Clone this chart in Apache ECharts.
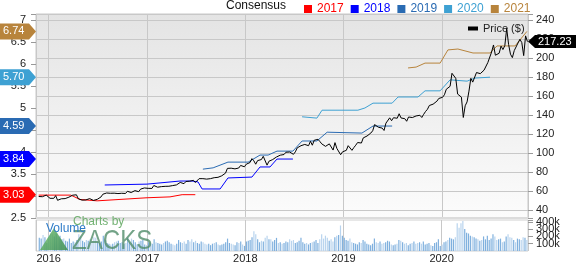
<!DOCTYPE html>
<html><head><meta charset="utf-8">
<script src="https://cdn.jsdelivr.net/npm/echarts@6/dist/echarts.min.js"></script>
<style>html,body{margin:0;padding:0;background:#fff}#c{width:576px;height:264px}</style>
</head><body><div id="c"></div>
<script>
// ---------- DATA ----------
const price2015 = [54.2, 55.9, 54.0, 54.1, 55.7];
const price2016 = [55.5, 52.3, 51.0, 52.3, 55.1, 50.2, 50.5, 51.8, 51.0, 52.0, 53.1, 53.5, 54.2, 55.6, 54.4, 56.0, 51.8, 49.9, 50.4, 51.1, 50.6, 52.3, 52.0, 51.5, 50.1, 49.8, 51.2, 52.3, 53.7, 56.6, 56.7, 57.9, 57.9, 57.6, 58.0, 57.7, 56.2, 57.3, 57.4, 57.6, 57.8, 57.4, 59.7, 59.9, 58.4, 58.8, 60.4, 60.5, 59.3, 62.0, 62.3, 63.2, 62.1];
const price2017 = [62.8, 62.7, 62.7, 65.8, 63.7, 64.0, 64.6, 64.6, 64.3, 64.9, 64.9, 65.0, 65.9, 65.7, 65.0, 66.4, 68.5, 69.0, 68.4, 67.7, 70.0, 71.8, 70.3, 70.0, 71.2, 68.9, 69.5, 73.0, 73.8, 73.0, 72.7, 72.5, 72.5, 73.0, 74.7, 74.0, 75.3, 74.4, 74.5, 76.0, 77.5, 78.8, 83.8, 84.1, 84.0, 82.4, 83.3, 84.3, 84.2, 86.9, 85.5, 85.5];
const price2018 = [88.2, 89.6, 90.0, 94.1, 91.8, 88.2, 92.0, 94.1, 93.1, 96.5, 94.6, 87.2, 91.3, 90.2, 93.1, 95.0, 95.8, 95.0, 97.7, 96.4, 98.4, 100.8, 101.6, 101.0, 100.4, 98.6, 101.2, 105.4, 106.3, 107.7, 108.0, 109.0, 107.6, 107.7, 112.3, 108.2, 113.4, 114.3, 114.4, 112.1, 109.6, 108.7, 107.0, 106.2, 109.6, 108.3, 103.1, 110.9, 104.8, 106.0, 98.2, 101.2];
const price2019 = [101.9, 102.8, 107.7, 106.2, 102.8, 105.7, 108.2, 111.0, 112.5, 110.5, 115.9, 117.1, 117.9, 119.4, 121.0, 123.4, 129.9, 128.9, 127.1, 128.1, 126.2, 123.7, 131.4, 132.5, 137.0, 134.0, 137.1, 138.9, 136.6, 141.3, 136.9, 137.7, 136.1, 133.4, 137.9, 139.1, 137.3, 139.4, 139.0, 138.1, 139.7, 137.4, 140.7, 143.7, 146.0, 150.0, 149.6, 151.4, 151.8, 154.5, 157.4, 159.0];
const price2020 = [158.6, 161.3, 167.1, 165.0, 170.2, 183.9, 185.4, 178.6, 162.0, 161.6, 158.8, 137.4, 149.7, 153.8, 165.1, 178.6, 174.6, 174.6, 184.7, 183.2, 183.5, 183.3, 187.2, 187.7, 195.2, 196.3, 206.3, 213.7, 202.9, 201.3, 205.0, 212.5, 208.9, 213.0, 231.0, 214.3, 204.0, 200.4, 207.8, 206.2, 215.8, 219.7, 216.2, 202.5, 223.3, 217.23];

// weekly volume, thousands
const vol2015 = [180, 170, 220, 190, 110];
const vol2016 = [210, 240, 230, 200, 240, 190, 210, 160, 170, 140, 130, 170, 110, 130, 120, 150, 230, 200, 140, 120, 150, 140, 160, 130, 190, 180, 120, 110, 130, 210, 150, 110, 100, 90, 100, 120, 130, 140, 110, 120, 100, 110, 180, 120, 170, 150, 120, 90, 130, 140, 150, 90, 80];
const vol2017 = [120, 110, 100, 160, 120, 110, 100, 90, 110, 130, 140, 120, 100, 90, 80, 100, 150, 120, 110, 130, 100, 150, 130, 160, 120, 140, 110, 100, 130, 120, 100, 90, 100, 80, 100, 110, 120, 90, 80, 90, 100, 120, 170, 110, 100, 90, 80, 120, 110, 130, 90, 70];
const vol2018 = [130, 140, 150, 190, 270, 230, 160, 120, 140, 130, 180, 210, 160, 160, 130, 150, 180, 110, 120, 100, 110, 130, 120, 160, 140, 150, 110, 120, 140, 180, 120, 100, 110, 90, 110, 120, 130, 150, 110, 160, 230, 170, 210, 180, 140, 160, 130, 190, 210, 220, 350, 210];
const vol2019 = [180, 150, 140, 170, 120, 110, 100, 90, 120, 110, 150, 130, 100, 90, 80, 100, 170, 120, 110, 130, 100, 110, 120, 140, 130, 90, 80, 90, 100, 150, 140, 120, 100, 110, 80, 100, 110, 130, 100, 110, 120, 100, 130, 90, 100, 110, 80, 70, 110, 120, 160, 70];
const vol2020 = [90, 120, 130, 150, 180, 170, 160, 190, 380, 320, 380, 410, 300, 250, 240, 210, 200, 190, 170, 160, 140, 150, 200, 160, 210, 150, 170, 230, 200, 150, 160, 170, 120, 130, 200, 230, 190, 180, 150, 120, 170, 160, 150, 190, 180, 150];

// consensus EPS per fiscal year
const eps2017 = [['2015-11-27',3.02],['2016-03-25',3.02],['2016-04-29',2.92],['2016-07-01',2.89],['2017-01-02',2.96],['2017-03-28',2.98],['2017-05-12',3.03],['2017-06-30',3.03]];
const eps2018 = [['2016-07-29',3.25],['2017-01-02',3.27],['2017-05-04',3.34],['2017-06-18',3.34],['2017-07-10',3.32],['2017-07-25',3.16],['2017-09-30',3.16],['2017-10-29',3.41],['2018-01-26',3.43],['2018-02-25',3.66],['2018-04-03',3.66],['2018-04-29',3.84],['2018-06-27',3.84]];
const eps2019 = [['2017-07-28',3.61],['2017-09-04',3.64],['2017-10-29',3.77],['2018-01-12',3.77],['2018-02-25',3.93],['2018-03-27',3.93],['2018-04-29',4.02],['2018-06-27',4.02],['2018-07-31',4.25],['2018-09-24',4.25],['2018-11-01',4.45],['2019-03-10',4.43],['2019-04-20',4.59],['2019-06-30',4.59]];
const eps2020 = [['2018-07-31',4.80],['2018-09-24',4.77],['2018-10-13',4.95],['2019-02-23',4.95],['2019-03-21',5.00],['2019-04-20',5.11],['2019-06-30',5.11],['2019-07-22',5.25],['2019-10-04',5.25],['2019-10-30',5.39],['2019-12-25',5.39],['2020-01-31',5.64],['2020-04-03',5.61],['2020-05-02',5.68],['2020-06-27',5.70]];
const eps2021 = [['2019-08-28',5.91],['2019-09-27',5.93],['2019-10-30',6.02],['2019-12-25',6.02],['2020-01-23',6.32],['2020-02-29',6.34],['2020-04-25',6.25],['2020-06-27',6.25],['2020-07-23',6.41],['2020-09-28',6.41],['2020-11-11',6.74]];

const epsNames = ['2017', '2018', '2019', '2020', '2021'];
const epsColors = ['#ff0000', '#0000ff', '#2a6bb3', '#3ea1d3', '#b8843c'];
const priceName = 'Price ($)';

// ---------- BUILD ----------
const FONT = '"Liberation Sans", Arial, sans-serif';
const price = [].concat(price2015, price2016, price2017, price2018, price2019, price2020);
const volume = [].concat(vol2015, vol2016, vol2017, vol2018, vol2019, vol2020);
const weeks = price.map((_, i) => new Date(2015, 10, 27 + 7 * i).getTime());
const xMin = new Date(2015, 10, 17).getTime();
const xMax = new Date(2020, 10, 15).getTime();
const epsSets = [eps2017, eps2018, eps2019, eps2020, eps2021];

const chart = echarts.init(document.getElementById('c'));

const yearFmt = v => { const d = new Date(v); return (d.getMonth() === 0 && d.getDate() === 1) ? String(d.getFullYear()) : ''; };
const xBase = {
  type: 'time', min: xMin, max: xMax, splitNumber: 5,
  minInterval: 300 * 86400000,
  axisTick: { show: false },
  splitLine: { show: true, lineStyle: { color: '#c8c8c8', width: 1 } }
};

const series = [];
epsSets.forEach((s, i) => {
  series.push({
    name: epsNames[i], type: 'line', xAxisIndex: 0, yAxisIndex: 0,
    data: s, showSymbol: false, symbol: 'none', color: epsColors[i],
    lineStyle: { color: epsColors[i], width: 1 }, z: 3
  });
});
series.push({
  name: priceName, type: 'line', xAxisIndex: 0, yAxisIndex: 1,
  data: weeks.map((t, i) => [t, price[i]]), showSymbol: false, symbol: 'none',
  color: '#000', lineStyle: { color: '#000', width: 1 }, z: 4
});
series.push({
  name: 'Volume', type: 'bar', xAxisIndex: 1, yAxisIndex: 2, barWidth: 1.2,
  data: weeks.map((t, i) => ({
    value: [t, volume[i]],
    itemStyle: { color: (i > 0 && price[i] < price[i - 1]) ? '#b9d4ee' : '#7fb0de' }
  })), z: 2
});

chart.setOption({
  animation: false,
  textStyle: { fontFamily: FONT },
  grid: [
    { left: 36, top: 14, width: 492, height: 204, show: true,
      backgroundColor: new echarts.graphic.LinearGradient(0, 0, 0, 1, [{ offset: 0, color: '#e4e4e4' }, { offset: 1, color: '#fcfcfc' }]),
      borderColor: '#c8c8c8', borderWidth: 1 },
    { left: 36, top: 220, width: 492, height: 34, show: true, backgroundColor: '#ffffff',
      borderColor: '#d0d0d0', borderWidth: 1 }
  ],
  xAxis: [
    Object.assign({}, xBase, { gridIndex: 0, axisLabel: { show: false },
      axisLine: { show: true, lineStyle: { color: '#dcdcdc', width: 2 } } }),
    Object.assign({}, xBase, { gridIndex: 1, axisLine: { show: false },
      axisLabel: { show: true, formatter: yearFmt, fontSize: 11, color: '#222', margin: 2, fontFamily: FONT,
        showMinLabel: false, showMaxLabel: false } })
  ],
  yAxis: [
    { type: 'value', gridIndex: 0, position: 'left', min: 2.5, max: 7.136, interval: 0.5,
      axisLine: { show: false }, splitLine: { show: false },
      axisTick: { show: true, length: 5, lineStyle: { color: '#999' } },
      axisLabel: { margin: 10, fontSize: 11, color: '#222', fontFamily: FONT,
        formatter: v => (Math.abs(v * 2 - Math.round(v * 2)) < 1e-6 ? String(v) : '') } },
    { type: 'value', gridIndex: 0, position: 'right', min: 31.58, max: 246.3, splitNumber: 10,
      minInterval: 20, maxInterval: 20,
      axisLine: { show: false },
      splitLine: { show: true, lineStyle: { color: '#c8c8c8', width: 1 } },
      axisTick: { show: true, length: 5, lineStyle: { color: '#999' } },
      axisLabel: { margin: 8, fontSize: 11, color: '#222', fontFamily: FONT,
        formatter: v => (Math.abs(v % 20) < 1e-6 ? String(v) : '') } },
    { type: 'value', gridIndex: 1, position: 'right', min: 0, max: 425, interval: 100,
      axisLine: { show: false }, splitLine: { show: false },
      axisTick: { show: true, length: 5, lineStyle: { color: '#999' } },
      axisLabel: { margin: 8, fontSize: 11, color: '#222', fontFamily: FONT,
        formatter: v => (v === 0 ? '0' : (v % 100 === 0 ? v + 'k' : '')) } }
  ],
  legend: [
    { data: epsNames.map((n, i) => ({ name: n, textStyle: { color: epsColors[i] } })),
      left: 299, top: -2, icon: 'rect', itemWidth: 8, itemHeight: 8, itemGap: 7,
      selectedMode: false, textStyle: { fontSize: 12, fontFamily: FONT } },
    { data: [priceName], left: 463, top: 18, icon: 'rect', itemWidth: 10, itemHeight: 4, itemGap: 5,
      selectedMode: false, textStyle: { fontSize: 11, color: '#222', fontFamily: FONT } }
  ],
  series: series
});

// ---------- tags & watermark ----------
const els = [];
els.push({ type: 'text', x: 226, y: 6, z: 60, style: { text: 'Consensus', fill: '#111', font: '12px ' + FONT, verticalAlign: 'middle', textVerticalAlign: 'middle' } });
const gx0 = chart.convertToPixel({ xAxisIndex: 0 }, xMin);
const gx1 = chart.convertToPixel({ xAxisIndex: 0 }, xMax);
epsSets.forEach((s, i) => {
  const v = s[s.length - 1][1];
  const y = chart.convertToPixel({ yAxisIndex: 0 }, v);
  els.push({ type: 'polygon', z: 100, shape: { points: [[gx0 - 36, y - 8], [gx0 - 7, y - 8], [gx0, y], [gx0 - 7, y + 8], [gx0 - 36, y + 8]] }, style: { fill: epsColors[i] } });
  els.push({ type: 'text', z: 101, x: gx0 - 33, y: y, style: { text: v.toFixed(2), fill: '#fff', font: '11px ' + FONT, verticalAlign: 'middle', textVerticalAlign: 'middle' } });
});
const lastP = price[price.length - 1];
const py = chart.convertToPixel({ yAxisIndex: 1 }, lastP);
els.push({ type: 'polygon', z: 100, shape: { points: [[gx1, py], [gx1 + 7, py - 6.5], [576, py - 6.5], [576, py + 6.5], [gx1 + 7, py + 6.5]] }, style: { fill: '#000' } });
els.push({ type: 'text', z: 101, x: gx1 + 10, y: py, style: { text: lastP.toFixed(2), fill: '#fff', font: '11px ' + FONT, verticalAlign: 'middle', textVerticalAlign: 'middle' } });

// Zacks watermark
els.push({ type: 'polygon', z: 50, shape: { points: [[40, 250], [54, 228], [68, 250]] },
  style: { fill: new echarts.graphic.LinearGradient(0, 0, 1, 1, [{ offset: 0, color: 'rgba(110,190,110,0.85)' }, { offset: 1, color: 'rgba(60,140,80,0.85)' }]) } });
els.push({ type: 'text', z: 51, x: 72, y: 241, scaleX: 0.86, style: { text: 'ZACKS', fill: 'rgba(80,140,105,0.8)', font: '28px ' + FONT, verticalAlign: 'middle', textVerticalAlign: 'middle' } });
els.push({ type: 'text', z: 51, x: 73, y: 222, style: { text: 'Charts by', fill: 'rgba(100,170,100,0.9)', font: '12px ' + FONT, verticalAlign: 'middle', textVerticalAlign: 'middle' } });
els.push({ type: 'text', z: 52, x: 46, y: 229, style: { text: 'Volume', fill: '#2f7cc9', font: '12px ' + FONT, verticalAlign: 'middle', textVerticalAlign: 'middle' } });

chart.setOption({ graphic: els });
</script>
</body></html>
